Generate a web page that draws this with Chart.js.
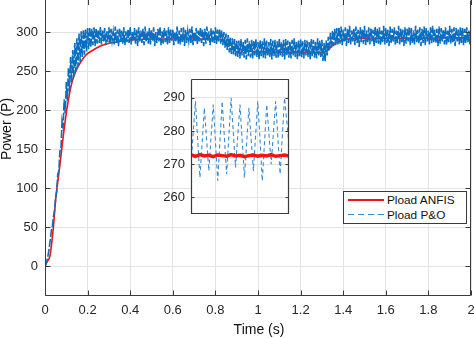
<!DOCTYPE html>
<html>
<head>
<meta charset="utf-8">
<script src="https://cdn.jsdelivr.net/npm/chart.js@4.4.1/dist/chart.umd.min.js"></script>
<style>
body { margin: 0; background: #fff; }
#wrap { position: relative; width: 474px; height: 338px; overflow: hidden; background: #fff; }
#mainChart { position: absolute; left: 0; top: 0; }
#insetChart { position: absolute; left: 158px; top: 75px; }
#legend { position: absolute; left: 343px; top: 191px; width: 122px; height: 31px; border: 1px solid #3a3a3a; background: #fff;
          font-family: "Liberation Sans", Arial, sans-serif; font-size: 11.8px; color: #111; }
.swatch { position: absolute; left: 4px; width: 36px; height: 1.5px; }
.lbl { position: absolute; left: 43px; white-space: nowrap; line-height: 14px; }
</style>
</head>
<body>
<div id="wrap">
  <canvas id="mainChart" width="474" height="338"></canvas>
  <canvas id="insetChart" width="134" height="143"></canvas>
  <div id="legend"></div>
</div>
<script>
Chart.defaults.font.family = '"Liberation Sans", Arial, sans-serif';
Chart.defaults.color = '#262626';

// axis ticks
var xTicks = [0, 0.2, 0.4, 0.6, 0.8, 1, 1.2, 1.4, 1.6, 1.8, 2];
var yTicks = [0, 50, 100, 150, 200, 250, 300];
var insetYTicks = [260, 270, 280, 290];
var insetXGrid = [1.011, 1.030];

// Pload ANFIS
var anfisTime  = [0, 0.01, 0.023, 0.039, 0.05, 0.07, 0.085, 0.102, 0.125, 0.145, 0.164, 0.19, 0.226, 0.26, 0.305, 0.35, 0.41,
                  0.54, 0.7, 0.82, 0.86, 0.9, 0.95, 1.0, 1.15, 1.3, 1.32, 1.35, 1.38, 1.42, 1.5, 1.7, 2.0];
var anfisPower = [0, 6, 13, 49, 85, 130, 165, 200, 234, 250, 260, 270, 277, 282, 286, 288, 290,
                  291, 291, 291, 285, 279, 276, 275, 274, 274, 275, 283, 288, 291, 292, 292, 293];

// Pload P&O, one sample every 5 ms
var poStep = 0.005;
var poStart = [0, 3, 8, 15, 24, 34, 46, 52, 64, 72,
               88, 96, 118, 122, 148, 150, 186, 178, 214, 196,
               236, 212, 254, 224, 268, 236, 277, 242, 286, 250,
               292, 256, 298, 262, 301, 268, 303, 271, 304, 275,
               305, 278, 306, 280, 304, 283, 306, 282, 305, 285];
var poFirstLevel = [303, 286, 307, 284, 302, 288, 305, 283, 301, 287,
                    306, 285, 304, 289, 300, 284, 307, 286, 303, 282,
                    305, 288, 302, 285, 306, 283, 301, 287, 304, 286,
                    307, 284, 300, 289, 305, 285, 303, 282, 306, 288,
                    302, 286, 304, 283, 307, 287, 301, 285, 305, 284,
                    303, 289, 306, 282, 300, 286, 304, 288, 307, 283,
                    301, 285, 305, 287, 302, 284, 306, 286, 303, 289,
                    304, 283, 300, 288, 307, 285, 302, 284, 305, 287,
                    306, 282, 303, 286, 301, 289, 304, 285, 307, 283,
                    300, 287, 305, 284, 302, 288, 306, 286, 303, 282,
                    304, 285, 307, 289, 301, 283, 305, 287, 302, 286,
                    306, 284, 303, 288];
var poDrop = [304, 285, 302, 283, 300, 280, 298, 277, 296, 274, 294, 272, 292, 270, 291, 269, 290];
var poLowLevel = [268, 289, 266, 291, 270, 287, 267, 290, 265, 292,
                  269, 288, 267, 290, 266, 289, 270, 291, 268, 287,
                  265, 290, 269, 288, 267, 292, 266, 289, 270, 287,
                  268, 291, 265, 289, 269, 290, 267, 288, 266, 292,
                  270, 287, 268, 290, 265, 291, 269, 289, 267, 288,
                  266, 290, 270, 292, 268, 287, 265, 289, 269, 291,
                  267, 288, 266, 290, 270, 289, 268, 287, 265, 291,
                  269, 290, 267, 288, 266, 292, 270, 289, 268, 290,
                  263];
var poRise = [286, 262, 289, 270, 294, 276, 299, 280, 302, 282, 304, 283, 305, 284, 306];
var poLastLevel = [285, 307, 283, 303, 287, 306, 282, 304, 286, 308,
                   284, 302, 288, 305, 283, 307, 286, 303, 281, 306,
                   287, 304, 285, 308, 283, 302, 286, 306, 284, 305,
                   288, 303, 282, 307, 286, 304, 285, 306, 283, 302,
                   287, 308, 284, 305, 286, 303, 282, 307, 285, 304,
                   288, 306, 283, 302, 286, 308, 284, 305, 287, 303,
                   282, 306, 285, 304, 288, 307, 283, 305, 286, 302,
                   284, 308, 287, 303, 285, 306, 282, 304, 286, 307,
                   283, 305, 288, 302, 284, 306, 285, 308, 287, 303,
                   286, 304, 282, 307, 285, 305, 288, 303, 284, 306,
                   283, 302, 287, 308, 285, 304, 286, 306, 282, 305,
                   288, 303, 284, 307, 286, 305, 283, 304, 285, 306,
                   287, 302, 284, 305];
var poPower = [].concat(poStart, poFirstLevel, poDrop, poLowLevel, poRise, poLastLevel);

// zoomed window (inset)
var insetTime  = [1.000, 1.002, 1.004, 1.006, 1.008, 1.010, 1.012, 1.014, 1.016, 1.018, 1.020, 1.022,
                  1.024, 1.026, 1.028, 1.030, 1.032, 1.034, 1.036, 1.038, 1.040, 1.042, 1.044];
var insetPO    = [270, 289, 266, 287, 268, 288, 265, 289, 267, 290, 269, 288,
                  266, 287, 268, 289, 265, 288, 270, 289, 267, 290, 276];
var insetANFIS = [272.8, 272.4, 272.9, 272.5, 272.7, 272.3, 272.8, 272.6, 272.4, 272.9, 272.5, 272.7,
                  272.3, 272.6, 272.8, 272.4, 272.7, 272.5, 272.9, 272.4, 272.6, 272.8, 272.5];

var red = '#f01414';
var blue = '#0a6fc2';
var gridColor = '#e3e3e3';
var axisColor = '#3a3a3a';

function xy(xs, ys)
{
    var out = [];
    for (var i = 0; i < ys.length; i++)
    {
        out.push({x: xs[i], y: ys[i]});
    }
    return out;
}

var poData = [];
for (var i = 0; i < poPower.length; i++)
{
    poData.push({x: i * poStep, y: poPower[i]});
}

function setTicks(list)
{
    return function (scale) {
        scale.ticks = list.map(function (v) { return {value: v}; });
    };
}

function fixSize(w, h)
{
    return function (scale) {
        if (w != null) scale.width = w;
        if (h != null) scale.height = h;
        scale.paddingTop = 0;
        scale.paddingBottom = 0;
        scale.paddingLeft = 0;
        scale.paddingRight = 0;
    };
}

// box round the plot + inward tick marks, like matlab
var framePlugin = {
    id: 'frame',
    beforeDraw: function (chart, args, opts) {
        if (!opts.fill) return;
        var a = chart.chartArea, ctx = chart.ctx;
        ctx.save();
        ctx.fillStyle = opts.fill;
        ctx.fillRect(a.left, a.top, a.right - a.left, a.bottom - a.top);
        ctx.restore();
    },
    afterDraw: function (chart, args, opts) {
        var a = chart.chartArea, ctx = chart.ctx, len = opts.tickLen;
        var l = Math.round(a.left) + 0.5, r = Math.round(a.right) - 0.5;
        var t = Math.round(a.top) + 0.5, b = Math.round(a.bottom) - 0.5;
        ctx.save();
        ctx.strokeStyle = opts.color;
        ctx.lineWidth = opts.width || 1;
        ctx.beginPath();
        ctx.moveTo(l, t); ctx.lineTo(l, b); ctx.lineTo(r, b); ctx.lineTo(r, t);
        if (opts.top) ctx.lineTo(l, t);
        if (opts.xTicks)
        {
            chart.scales.x.ticks.forEach(function (tk) {
                var px = Math.round(chart.scales.x.getPixelForValue(tk.value)) + 0.5;
                ctx.moveTo(px, b); ctx.lineTo(px, b - len);
                ctx.moveTo(px, a.top); ctx.lineTo(px, a.top + len);
            });
        }
        chart.scales.y.ticks.forEach(function (tk) {
            var py = Math.round(chart.scales.y.getPixelForValue(tk.value)) + 0.5;
            ctx.moveTo(l, py); ctx.lineTo(l + len, py);
            ctx.moveTo(r, py); ctx.lineTo(r - len, py);
        });
        ctx.stroke();
        ctx.restore();
    }
};

var titlesPlugin = {
    id: 'titles',
    afterDraw: function (chart, args, opts) {
        var ctx = chart.ctx;
        (opts.items || []).forEach(function (it) {
            ctx.save();
            ctx.font = it.size + 'px "Liberation Sans", Arial, sans-serif';
            ctx.fillStyle = '#111';
            ctx.textAlign = 'center';
            ctx.textBaseline = 'middle';
            ctx.translate(it.x, it.y);
            if (it.rotate) ctx.rotate(it.rotate);
            ctx.fillText(it.text, 0, 0);
            ctx.restore();
        });
    }
};

var tickFont = {size: 13};

var mainChart = new Chart(document.getElementById('mainChart'), {
    type: 'line',
    data: {
        datasets: [
            {
                label: 'Pload ANFIS',
                data: xy(anfisTime, anfisPower),
                borderColor: red,
                borderWidth: 1.6,
                pointRadius: 0,
                cubicInterpolationMode: 'monotone',
                order: 2
            },
            {
                label: 'Pload P&O',
                data: poData,
                borderColor: blue,
                borderWidth: 1.6,
                borderDash: [8, 2],
                pointRadius: 0,
                tension: 0,
                order: 1
            }
        ]
    },
    options: {
        responsive: false,
        animation: false,
        devicePixelRatio: 1,
        events: [],
        layout: {padding: {left: 0, right: 3, top: 0, bottom: 0}},
        plugins: {
            legend: {display: false},
            tooltip: {enabled: false},
            frame: {color: axisColor, tickLen: 5, xTicks: true, top: false},
            titles: {items: [
                {text: 'Time (s)', x: 259, y: 330, size: 14},
                {text: 'Power (P)', x: 7, y: 129, size: 14, rotate: -Math.PI / 2}
            ]}
        },
        scales: {
            x: {
                type: 'linear',
                min: 0,
                max: 2,
                afterBuildTicks: setTicks(xTicks),
                afterFit: fixSize(null, 42),
                border: {display: false},
                grid: {color: gridColor, drawTicks: false},
                ticks: {font: tickFont, color: '#262626', padding: 7, maxRotation: 0,
                        callback: function (v) { return String(v); }}
            },
            y: {
                min: -38,
                max: 341,
                afterBuildTicks: setTicks(yTicks),
                afterFit: fixSize(45, null),
                border: {display: false},
                grid: {color: gridColor, drawTicks: false},
                ticks: {font: tickFont, color: '#262626', padding: 7,
                        callback: function (v) { return String(v); }}
            }
        }
    },
    plugins: [framePlugin, titlesPlugin]
});

var insetChart = new Chart(document.getElementById('insetChart'), {
    type: 'line',
    data: {
        datasets: [
            {
                label: 'Pload ANFIS',
                data: xy(insetTime, insetANFIS),
                borderColor: red,
                borderWidth: 3.5,
                pointRadius: 0,
                order: 1
            },
            {
                label: 'Pload P&O',
                data: xy(insetTime, insetPO),
                borderColor: '#3a8ad0',
                borderWidth: 1.1,
                borderDash: [4, 3],
                pointRadius: 0,
                order: 2
            }
        ]
    },
    options: {
        responsive: false,
        animation: false,
        devicePixelRatio: 1,
        events: [],
        layout: {padding: {left: 0, right: 3, top: 4, bottom: 0}},
        plugins: {
            legend: {display: false},
            tooltip: {enabled: false},
            frame: {color: axisColor, tickLen: 3, xTicks: false, top: true, fill: '#fff', width: 1.2}
        },
        scales: {
            x: {
                type: 'linear',
                min: 1.0,
                max: 1.044,
                afterBuildTicks: setTicks(insetXGrid),
                afterFit: fixSize(null, 4),
                border: {display: false},
                grid: {color: gridColor, drawTicks: false},
                ticks: {display: false}
            },
            y: {
                min: 255,
                max: 295.7,
                afterBuildTicks: setTicks(insetYTicks),
                afterFit: fixSize(33, null),
                border: {display: false},
                grid: {color: gridColor, drawTicks: false},
                ticks: {font: tickFont, color: '#262626', padding: 6,
                        callback: function (v) { return String(v); }}
            }
        }
    },
    plugins: [framePlugin]
});

// legend box, built from the main chart's datasets
var legend = document.getElementById('legend');
mainChart.data.datasets.forEach(function (ds, i) {
    var mid = 8 + i * 14.5;
    var sw = document.createElement('div');
    sw.className = 'swatch';
    sw.style.top = (mid - 0.75) + 'px';
    if (ds.borderDash)
    {
        sw.style.background = 'repeating-linear-gradient(90deg, #3a8ad0 0 6px, transparent 6px 10px)';
        sw.style.height = '1px';
    }
    else
    {
        sw.style.background = ds.borderColor;
    }
    var lb = document.createElement('div');
    lb.className = 'lbl';
    lb.style.top = (mid - 7) + 'px';
    lb.textContent = ds.label;
    legend.appendChild(sw);
    legend.appendChild(lb);
});
</script>
</body>
</html>
